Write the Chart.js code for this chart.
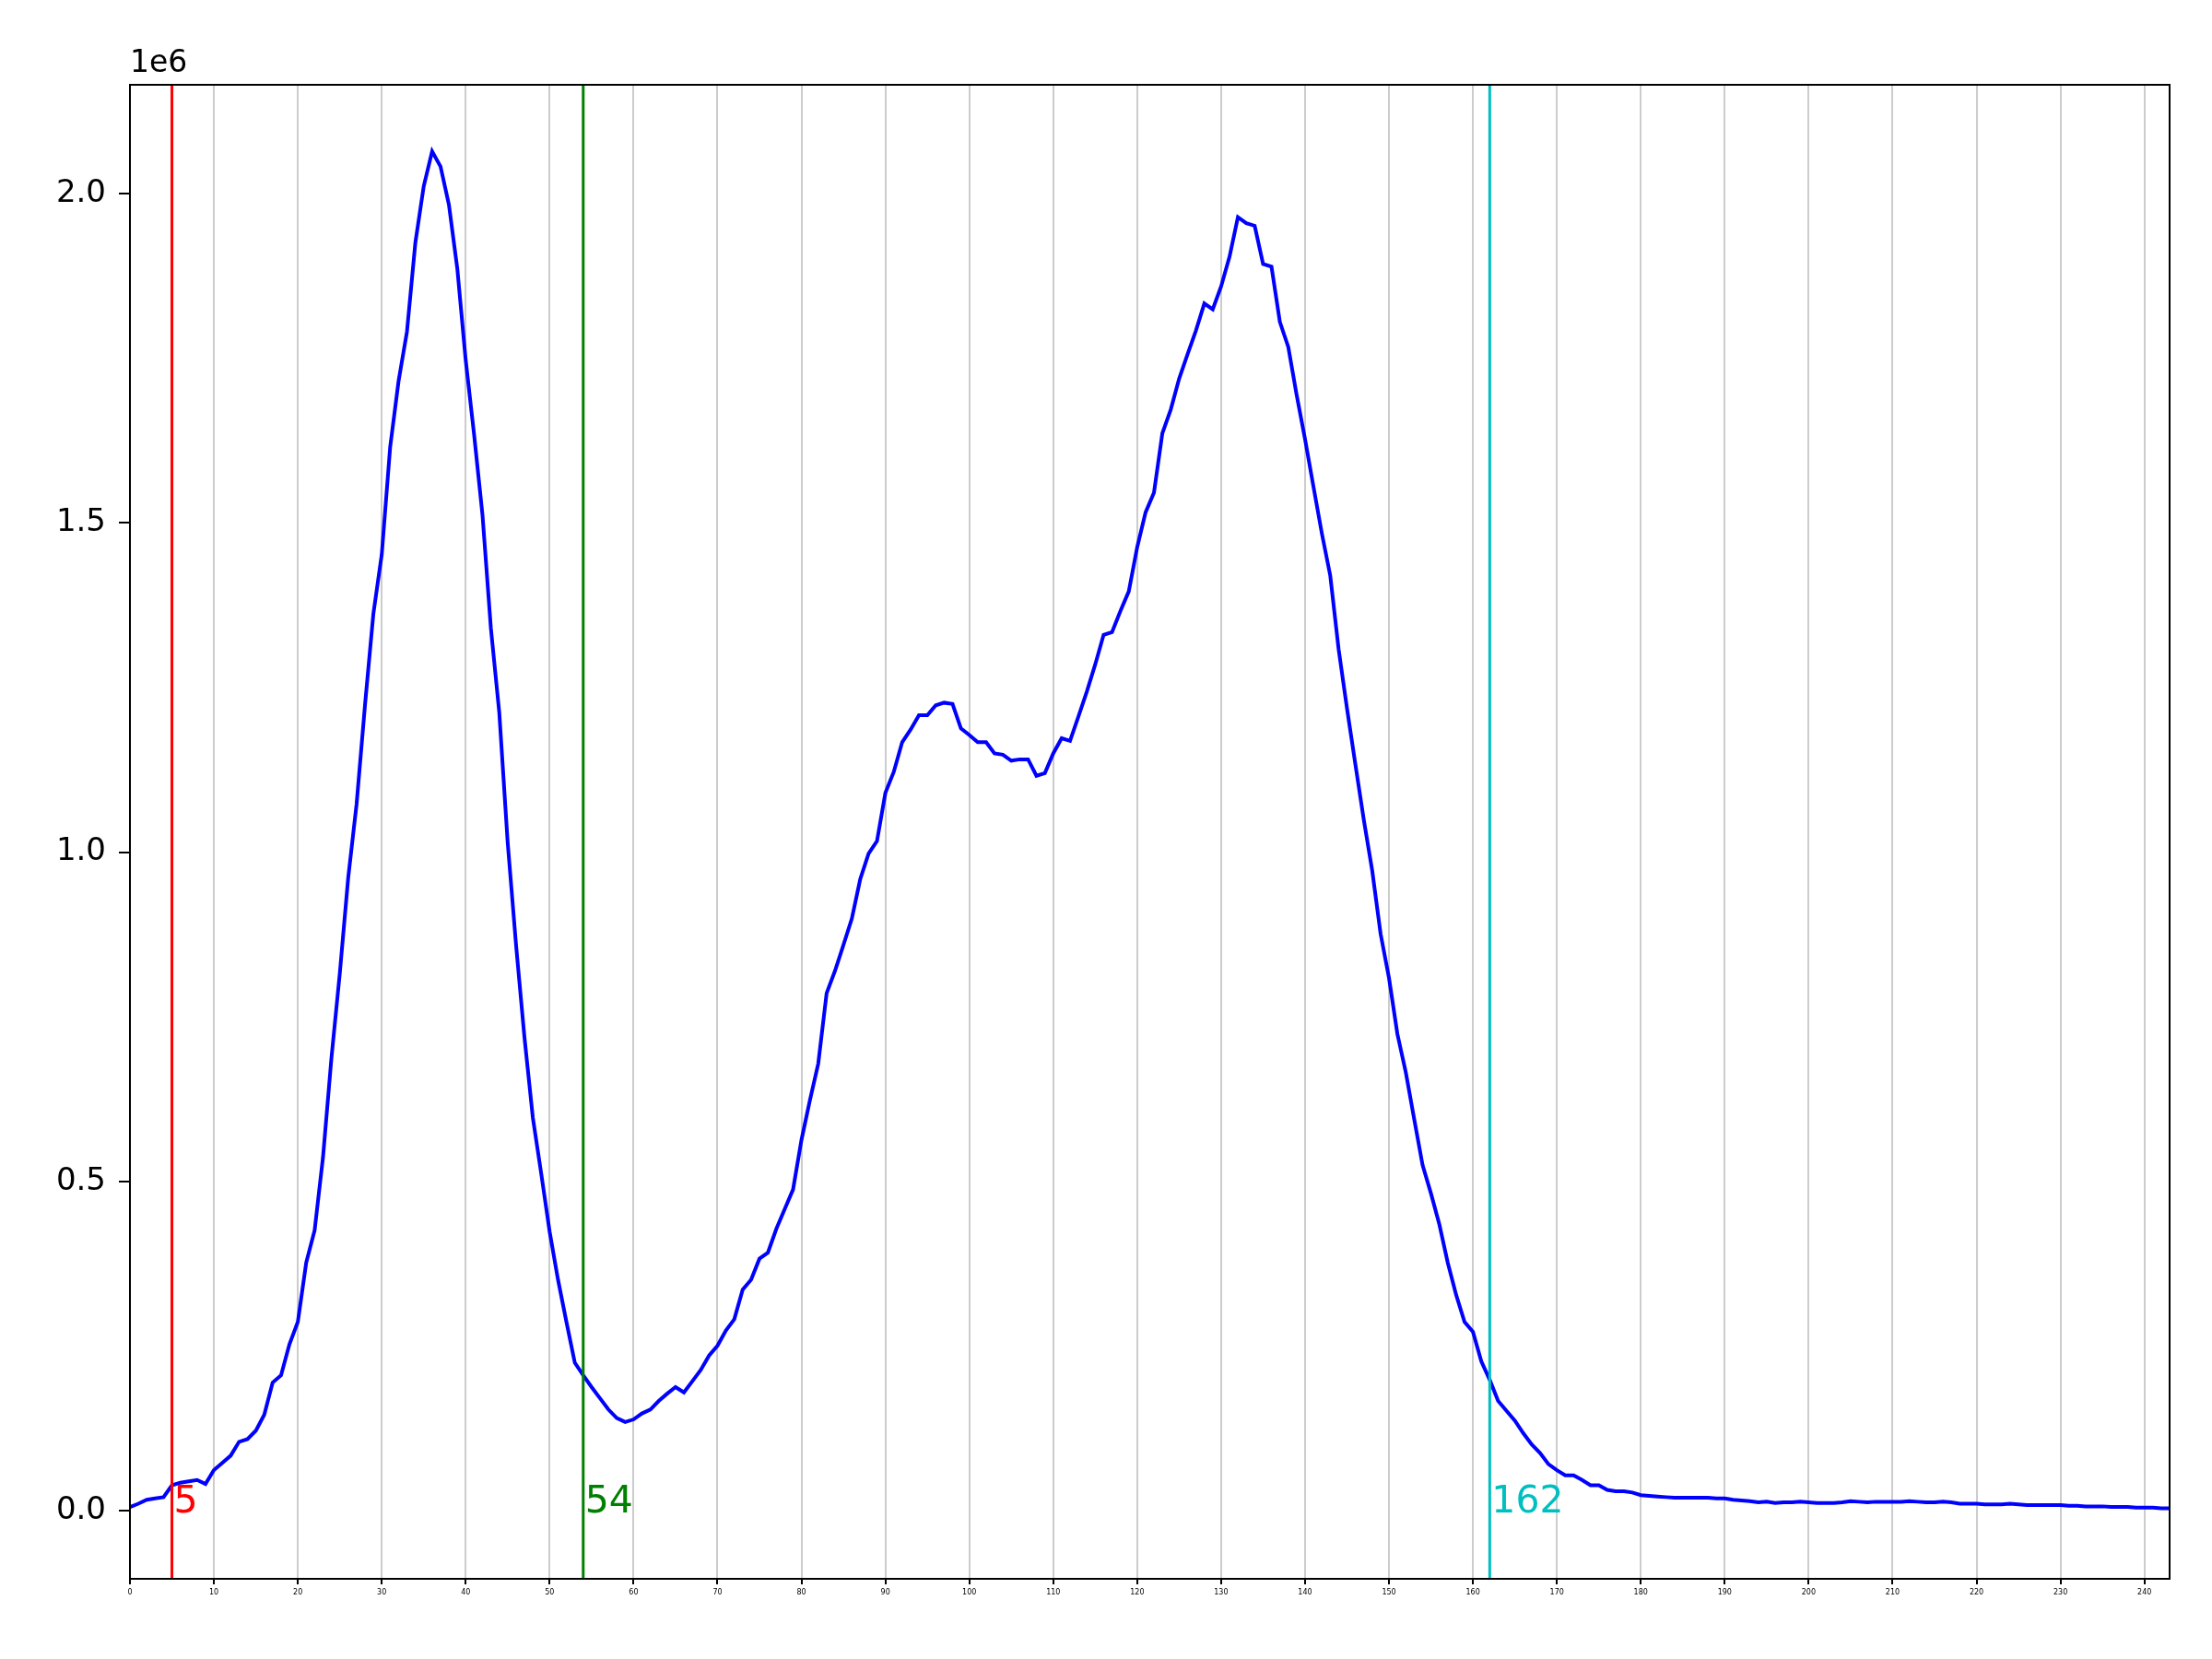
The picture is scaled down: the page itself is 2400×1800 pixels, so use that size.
<!DOCTYPE html>
<html>
<head>
<meta charset="utf-8">
<script src="https://cdn.jsdelivr.net/npm/chart.js@4/dist/chart.umd.min.js"></script>
<style>
  body { margin: 0; background: #fff; }
  #wrap { width: 2400px; height: 1800px; }
</style>
</head>
<body>
<div id="wrap"><canvas id="histChart" width="2400" height="1800"></canvas></div>
<script>
// histogram values, in units of 1e6, bin 0..243
var counts = [
  0.006, 0.011, 0.017, 0.019, 0.021, 0.039, 0.043, 0.045, 0.047, 0.041,
  0.062, 0.073, 0.084, 0.105, 0.109, 0.122, 0.146, 0.195, 0.206, 0.253,
  0.287, 0.377, 0.426, 0.537, 0.687, 0.816, 0.961, 1.073, 1.223, 1.362,
  1.452, 1.615, 1.715, 1.790, 1.925, 2.011, 2.064, 2.041, 1.983, 1.886,
  1.747, 1.634, 1.512, 1.340, 1.212, 1.015, 0.859, 0.719, 0.597, 0.512,
  0.424, 0.351, 0.287, 0.225, 0.206, 0.188, 0.171, 0.154, 0.141, 0.135,
  0.139, 0.148, 0.154, 0.167, 0.178, 0.188, 0.180, 0.197, 0.214, 0.236,
  0.251, 0.274, 0.291, 0.336, 0.351, 0.383, 0.392, 0.428, 0.458, 0.488,
  0.563, 0.623, 0.679, 0.786, 0.820, 0.859, 0.899, 0.959, 0.998, 1.017,
  1.090, 1.122, 1.167, 1.186, 1.208, 1.208, 1.223, 1.227, 1.225, 1.188,
  1.178, 1.167, 1.167, 1.150, 1.148, 1.139, 1.141, 1.141, 1.116, 1.120,
  1.150, 1.173, 1.169, 1.206, 1.244, 1.285, 1.330, 1.334, 1.366, 1.396,
  1.463, 1.516, 1.546, 1.636, 1.672, 1.719, 1.756, 1.792, 1.833, 1.824,
  1.859, 1.904, 1.964, 1.955, 1.951, 1.893, 1.889, 1.805, 1.767, 1.694,
  1.627, 1.555, 1.484, 1.420, 1.308, 1.218, 1.133, 1.049, 0.972, 0.876,
  0.809, 0.724, 0.666, 0.595, 0.525, 0.482, 0.435, 0.377, 0.328, 0.287,
  0.272, 0.227, 0.199, 0.167, 0.152, 0.137, 0.118, 0.101, 0.088, 0.071,
  0.062, 0.054, 0.054, 0.047, 0.039, 0.039, 0.032, 0.030, 0.030, 0.028,
  0.024, 0.023, 0.022, 0.021, 0.020, 0.020, 0.020, 0.020, 0.020, 0.019,
  0.019, 0.017, 0.016, 0.015, 0.013, 0.014, 0.012, 0.013, 0.013, 0.014,
  0.013, 0.012, 0.012, 0.012, 0.013, 0.015, 0.014, 0.013, 0.014, 0.014,
  0.014, 0.014, 0.015, 0.014, 0.013, 0.013, 0.014, 0.013, 0.011, 0.011,
  0.011, 0.010, 0.010, 0.010, 0.011, 0.010, 0.009, 0.009, 0.009, 0.009,
  0.009, 0.008, 0.008, 0.007, 0.007, 0.007, 0.006, 0.006, 0.006, 0.005,
  0.005, 0.005, 0.004, 0.004
];
var markerPos = [5, 54, 162];
var markerColors = ['#ff0000', '#008000', '#00bfbf'];
var yTicks = [0, 0.5, 1.0, 1.5, 2.0];

var points = counts.map(function (v, i) { return { x: i, y: v * 1e6 }; });

var markers = {
  id: 'markers',
  afterDatasetsDraw: function (chart) {
    var c = chart.ctx, a = chart.chartArea;
    var xs = chart.scales.x, ys = chart.scales.y;
    c.save();
    markerPos.forEach(function (m, k) {
      var px = xs.getPixelForValue(m);
      c.strokeStyle = markerColors[k];
      c.lineWidth = 3;
      c.beginPath(); c.moveTo(px, a.top); c.lineTo(px, a.bottom); c.stroke();
      c.fillStyle = markerColors[k];
      c.font = '41px "DejaVu Sans"';
      c.textBaseline = 'alphabetic';
      c.fillText(String(m), px + 2, ys.getPixelForValue(0) + 2);
    });
    c.strokeStyle = '#000';
    c.lineWidth = 2;
    c.strokeRect(a.left, a.top, a.right - a.left, a.bottom - a.top);
    c.fillStyle = '#000';
    c.font = '33px "DejaVu Sans"';
    c.fillText('1e6', a.left, a.top - 14);
    c.restore();
  }
};

new Chart(document.getElementById('histChart'), {
  type: 'line',
  data: {
    datasets: [{
      data: points,
      borderColor: '#0000ff',
      borderWidth: 4,
      pointRadius: 0,
      tension: 0
    }]
  },
  options: {
    responsive: false,
    animation: false,
    layout: { padding: { left: 0, right: 46, top: 92, bottom: 0 } },
    plugins: { legend: { display: false }, tooltip: { enabled: false } },
    scales: {
      x: {
        type: 'linear',
        min: 0,
        max: 243,
        afterBuildTicks: function (s) {
          var t = [];
          for (var v = 0; v <= 240; v += 10) t.push({ value: v });
          s.ticks = t;
        },
        afterFit: function (s) { s.height = 87; },
        ticks: { color: '#000', font: { size: 8, family: 'DejaVu Sans' }, maxRotation: 0, autoSkip: false, padding: 4 },
        grid: { color: '#cccccc', lineWidth: 2, tickLength: 6, tickColor: '#000' },
        border: { color: '#000', width: 2 }
      },
      y: {
        min: -0.103e6,
        max: 2.165e6,
        afterBuildTicks: function (s) {
          s.ticks = yTicks.map(function (v) { return { value: v * 1e6 }; });
        },
        afterFit: function (s) { s.width = 141; },
        ticks: {
          color: '#000',
          font: { size: 34, family: 'DejaVu Sans' },
          padding: 14,
          callback: function (v) { return (v / 1e6).toFixed(1); }
        },
        grid: { drawOnChartArea: false, tickLength: 12, tickColor: '#000', lineWidth: 2 },
        border: { color: '#000', width: 2 }
      }
    }
  },
  plugins: [markers]
});
</script>
</body>
</html>
